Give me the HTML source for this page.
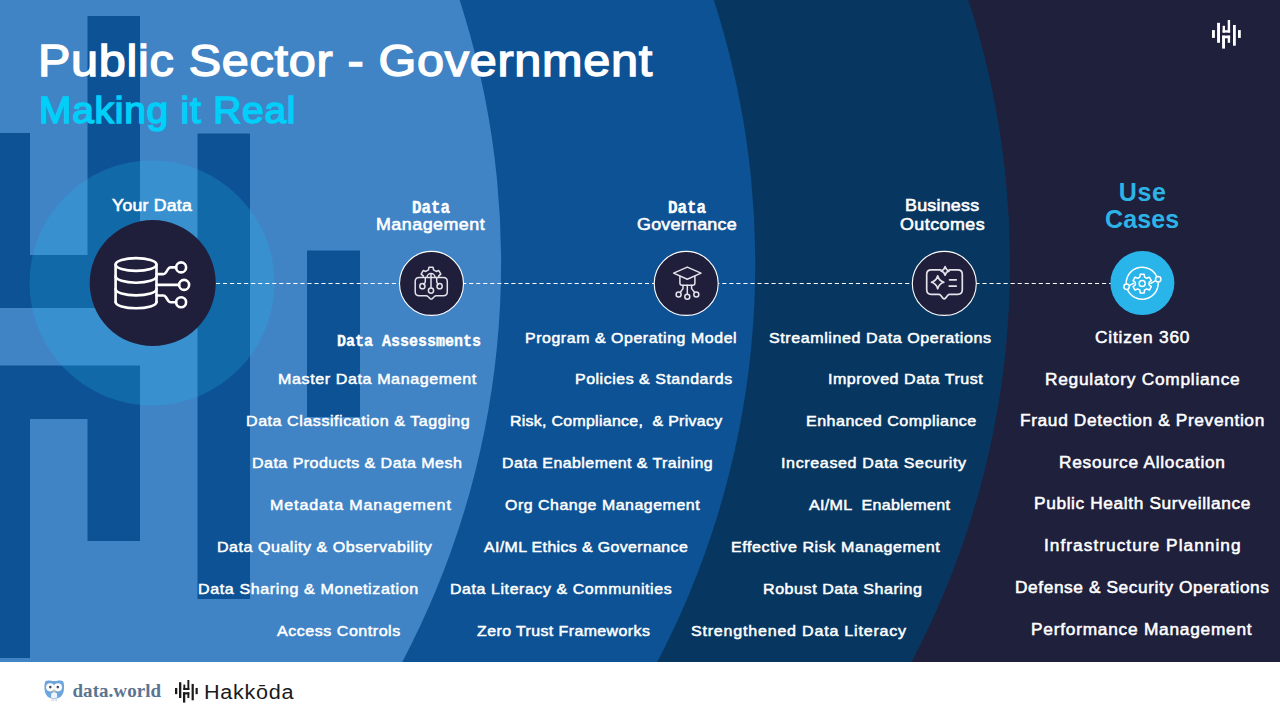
<!DOCTYPE html>
<html><head><meta charset="utf-8">
<style>
html,body{margin:0;padding:0;}
body{width:1280px;height:720px;overflow:hidden;position:relative;background:#fff;font-family:"Liberation Sans",sans-serif;}
.t{position:absolute;white-space:nowrap;line-height:1;transform-origin:0 0;}
svg.bg{position:absolute;left:0;top:0;}
</style></head><body>
<svg class="bg" width="1280" height="720" viewBox="0 0 1280 720">
<defs><clipPath id="main"><rect x="0" y="0" width="1280" height="662"/></clipPath></defs>
<g clip-path="url(#main)">
<rect x="0" y="0" width="1280" height="662" fill="#1f203c"/>
<circle cx="155.3" cy="263.7" r="854.7" fill="#073761"/>
<circle cx="-102.8" cy="263.6" r="858.1" fill="#0d5294"/>
<circle cx="-353.5" cy="263" r="854.6" fill="#4084c6"/>
<g fill="#0d5294"><path d="M-22,133 H30 V308 H-22Z M0,255 H140 V308 H0Z M87.5,16 H140 V308 H87.5Z M-22,365.5 H140 V419 H-22Z M-22,365.5 H30 V658 H-22Z M87.5,365.5 H140 V541 H87.5Z M197.5,133.5 H250 V599 H197.5Z M307,250.5 H360 V417 H307Z"/></g>
<circle cx="152" cy="283" r="122.5" fill="rgba(31,186,243,0.22)"/>
</g>
<line x1="216" y1="283.5" x2="1111" y2="283.5" stroke="#fff" stroke-width="1.2" stroke-dasharray="4.1 2.932"/>
<circle cx="152.7" cy="283.1" r="63" fill="#1f1f3b"/>
<circle cx="431.5" cy="283.4" r="32" fill="#1f1f3b" stroke="#fff" stroke-width="1.1"/>
<circle cx="686.2" cy="283.4" r="32" fill="#1f1f3b" stroke="#fff" stroke-width="1.1"/>
<circle cx="944.3" cy="283.4" r="32" fill="#1f1f3b" stroke="#fff" stroke-width="1.1"/>
<circle cx="1142.4" cy="283.1" r="32" fill="#2ab5ea"/>
<g fill="none" stroke="#fff" stroke-width="2.6" stroke-linecap="round" stroke-linejoin="round"><ellipse cx="136.05" cy="264.5" rx="20.45" ry="6.4"/><path d="M115.60000000000001,276.3 A20.45,6.4 0 0 0 156.5,276.3"/><path d="M115.60000000000001,289.0 A20.45,6.4 0 0 0 156.5,289.0"/><path d="M115.60000000000001,301.9 A20.45,6.4 0 0 0 156.5,301.9"/><path d="M115.60000000000001,264.6 V301.9 M156.5,264.6 V301.9"/><path d="M156.5,274.1 H163.2 Q164.8,274.1 165.8,272.6 L168.2,268.9 Q169.2,267.4 170.8,267.4 H176.1"/><path d="M156.5,284.9 H179.1"/><path d="M156.5,295.5 H163.2 Q164.8,295.5 165.8,297 L168.2,300.8 Q169.2,302.3 170.8,302.3 H176.1"/><circle cx="181.1" cy="267.4" r="5.0"/><circle cx="184.1" cy="284.9" r="5.0"/><circle cx="181.1" cy="302.3" r="5.0"/></g>
<g fill="none" stroke="#e2e2ea" stroke-width="1.5" stroke-linecap="round" stroke-linejoin="round"><clipPath id="gclip"><rect x="410" y="255" width="45" height="22.2"/></clipPath><path clip-path="url(#gclip)" d="M428.48,269.91 L428.94,267.21 L433.06,267.21 L433.52,269.91 L436.22,271.47 L438.80,270.52 L440.86,274.08 L438.74,275.84 L438.74,278.96 L440.86,280.72 L438.80,284.28 L436.22,283.33 L433.52,284.89 L433.06,287.59 L428.94,287.59 L428.48,284.89 L425.78,283.33 L423.20,284.28 L421.14,280.72 L423.26,278.96 L423.26,275.84 L421.14,274.08 L423.20,270.52 L425.78,271.47Z"/><path clip-path="url(#gclip)" d="M427,277.6 A4,4 0 0 1 435,277.6"/><path d="M419.2,277.6 H443.3 Q447.3,277.6 447.3,281.6 V291.8 Q447.3,295.8 443.3,295.8 H436.2 Q435.2,295.8 434.2,296.8 L432.3,298.6 Q431.2,299.5 430.1,298.6 L428.2,296.8 Q427.2,295.8 426.2,295.8 H419.2 Q415.2,295.8 415.2,291.8 V281.6 Q415.2,277.6 419.2,277.6Z"/><path d="M431,273.8 V287.6"/><path d="M425.3,277.6 V281.2 Q425.3,282.6 424.4,283.6 L423.6,284.4"/><path d="M436.7,277.6 V281.2 Q436.7,282.6 437.6,283.6 L438.4,284.4"/><circle cx="422.4" cy="286.2" r="2.6"/><circle cx="431" cy="290.6" r="2.6"/><circle cx="439.6" cy="286.2" r="2.6"/></g>
<g fill="none" stroke="#e2e2ea" stroke-width="1.5" stroke-linecap="round" stroke-linejoin="round"><path d="M673.6,273.1 L687.3,267.1 L701,273.1 L687.3,279.3 Z"/><path d="M679.9,276.2 V283 Q679.9,285.3 682.2,285.3 H692.6 Q694.9,285.3 694.9,283 V276.2"/><path d="M687.3,285.3 V294.2"/><path d="M683,285.3 V288.6 L680.4,292.2"/><path d="M691.6,285.3 V288.6 L694.5,292.2"/><circle cx="678.6" cy="294.4" r="2.5"/><circle cx="687.3" cy="296.7" r="2.5"/><circle cx="696.3" cy="294.4" r="2.5"/></g>
<g fill="none" stroke="#e2e2ea" stroke-width="1.7" stroke-linecap="round" stroke-linejoin="round"><path d="M940.6,269.8 H931.2 Q926.7,269.8 926.7,274.3 V289.8 Q926.7,294.3 931.2,294.3 H938.8 Q939.8,294.3 940.6,295.3 L942.9,298.1 Q944.2,299.4 945.5,298.1 L947.8,295.3 Q948.6,294.3 949.6,294.3 H957.8 Q962.3,294.3 962.3,289.8 V274.3 Q962.3,269.8 957.8,269.8 H949.6"/><path d="M945.1,266.59999999999997 Q946.0020000000001,269.95399999999995 949.2,270.9 Q946.0020000000001,271.846 945.1,275.2 Q944.198,271.846 941.0,270.9 Q944.198,269.95399999999995 945.1,266.59999999999997Z"/><path d="M937.7,275.8 Q939.0640000000001,280.87 943.9000000000001,282.3 Q939.0640000000001,283.73 937.7,288.8 Q936.336,283.73 931.5,282.3 Q936.336,280.87 937.7,275.8Z"/><path d="M949.6,279.8 H956.2 M949.2,286.1 H956.2" stroke-width="1.8"/></g>
<g fill="none" stroke="#fff" stroke-width="1.5" stroke-linecap="round" stroke-linejoin="round"><path d="M1126.20,283.20 A16,16 0 0 1 1157.03,277.21"/><path d="M1158.20,283.20 A16,16 0 0 1 1127.16,288.67"/><path d="M1139.90,276.99 L1140.20,274.21 L1144.20,274.21 L1144.50,276.99 L1146.77,278.30 L1149.33,277.18 L1151.33,280.63 L1149.08,282.29 L1149.08,284.91 L1151.33,286.57 L1149.33,290.02 L1146.77,288.90 L1144.50,290.21 L1144.20,292.99 L1140.20,292.99 L1139.90,290.21 L1137.63,288.90 L1135.07,290.02 L1133.07,286.57 L1135.32,284.91 L1135.32,282.29 L1133.07,280.63 L1135.07,277.18 L1137.63,278.30Z"/><circle cx="1142.2" cy="283.6" r="3"/><path d="M1129.2,285.6 L1133.4,283.4 M1150.9,283.4 L1155.6,280.6"/><circle cx="1126.6" cy="286.8" r="2.7" fill="#2ab5ea"/><circle cx="1158.2" cy="279.2" r="2.7" fill="#2ab5ea"/></g>
<g fill="#fff"><rect x="1212.00" y="30.10" width="2.90" height="7.80"/><rect x="1217.10" y="22.80" width="2.90" height="20.00"/><rect x="1233.00" y="25.00" width="2.80" height="20.70"/><rect x="1238.00" y="30.10" width="2.80" height="7.80"/><rect x="1222.60" y="25.80" width="2.40" height="6.80"/><rect x="1227.70" y="20.00" width="2.40" height="12.60"/><rect x="1222.60" y="30.20" width="7.50" height="2.40"/><rect x="1222.10" y="35.60" width="2.90" height="13.00"/><rect x="1227.70" y="35.60" width="2.40" height="7.20"/><rect x="1222.10" y="35.60" width="8.00" height="2.70"/></g>
<g fill="#1a1a1a"><rect x="175.00" y="687.98" width="2.29" height="6.16"/><rect x="179.03" y="682.21" width="2.29" height="15.80"/><rect x="191.59" y="683.95" width="2.21" height="16.35"/><rect x="195.54" y="687.98" width="2.21" height="6.16"/><rect x="183.37" y="684.58" width="1.90" height="5.37"/><rect x="187.40" y="680.00" width="1.90" height="9.95"/><rect x="183.37" y="688.06" width="5.93" height="1.90"/><rect x="182.98" y="692.32" width="2.29" height="10.27"/><rect x="187.40" y="692.32" width="1.90" height="5.69"/><rect x="182.98" y="692.32" width="6.32" height="2.13"/></g>
<path d="M45.2,681.5 Q47,680 50,680.6 Q54.2,681.6 58.5,680.6 Q61.5,680 63.3,681.5 Q64.3,684 64,689 Q63.6,695.5 59,697.8 Q54.2,699.5 49.5,697.8 Q44.9,695.5 44.5,689 Q44.2,684 45.2,681.5Z" fill="#6ea5dc"/><circle cx="50.2" cy="687.3" r="4.1" fill="#fff"/><circle cx="57.9" cy="687.3" r="4.1" fill="#fff"/><circle cx="50.3" cy="687.1" r="1.3" fill="#4a5060"/><circle cx="57.8" cy="687.1" r="1.3" fill="#4a5060"/><path d="M51.2,693.5 Q54.1,690.5 57,693.5 L57.2,697.6 Q54.1,699 51,697.6Z" fill="#eef4fb"/><rect x="53.1" y="690" width="2" height="2.5" rx="0.8" fill="#dcc39a"/><path d="M52.2,699.2 L51.8,701.2 M53.2,699.2 L53.2,701.2 M55.2,699.2 L55.2,701.2 M56.2,699.2 L56.6,701.2" stroke="#c9ccd4" stroke-width="0.8"/>
</svg>
<div id="t1" class="t" style="left:38.01px;top:38.16px;font-size:45px;letter-spacing:0.639px;transform:scaleX(1.08);-webkit-text-stroke:1.4px #fff;color:#fff;font-weight:400;font-family:'Liberation Sans', sans-serif">Public Sector - Government</div><div id="t2" class="t" style="left:38.84px;top:92.63px;font-size:36px;letter-spacing:0.718px;transform:scaleX(1.08);-webkit-text-stroke:1.5px #00cff9;color:#00cff9;font-weight:400;font-family:'Liberation Sans', sans-serif">Making it Real</div><div id="h1" class="t" style="left:112.10px;top:197.11px;font-size:17px;letter-spacing:0.216px;transform:scaleX(1.04);-webkit-text-stroke:0.6px #fff;color:#fff;font-weight:400;font-family:'Liberation Sans', sans-serif">Your Data</div><div id="h2a" class="t" style="left:411.62px;top:198.80px;font-size:18px;letter-spacing:0.000px;transform:scaleX(0.878571428571428);-webkit-text-stroke:0.4px #fff;color:#fff;font-weight:700;font-family:'Liberation Mono', monospace">Data</div><div id="h2b" class="t" style="left:375.55px;top:216.21px;font-size:17px;letter-spacing:0.471px;transform:scaleX(1.05);-webkit-text-stroke:0.6px #fff;color:#fff;font-weight:400;font-family:'Liberation Sans', sans-serif">Management</div><div id="h3a" class="t" style="left:668.12px;top:198.60px;font-size:18px;letter-spacing:0.000px;transform:scaleX(0.8833333333333339);-webkit-text-stroke:0.4px #fff;color:#fff;font-weight:700;font-family:'Liberation Mono', monospace">Data</div><div id="h3b" class="t" style="left:637.35px;top:216.31px;font-size:17px;letter-spacing:0.259px;transform:scaleX(1.05);-webkit-text-stroke:0.6px #fff;color:#fff;font-weight:400;font-family:'Liberation Sans', sans-serif">Governance</div><div id="h4a" class="t" style="left:904.55px;top:197.31px;font-size:17px;letter-spacing:0.231px;transform:scaleX(1.05);-webkit-text-stroke:0.6px #fff;color:#fff;font-weight:400;font-family:'Liberation Sans', sans-serif">Business</div><div id="h4b" class="t" style="left:899.55px;top:216.31px;font-size:17px;letter-spacing:0.449px;transform:scaleX(1.05);-webkit-text-stroke:0.6px #fff;color:#fff;font-weight:400;font-family:'Liberation Sans', sans-serif">Outcomes</div><div id="h5a" class="t" style="left:1118.70px;top:180.04px;font-size:25px;letter-spacing:0.650px;color:#2cb4e7;font-weight:700;font-family:'Liberation Sans', sans-serif">Use</div><div id="h5b" class="t" style="left:1105.00px;top:207.34px;font-size:25px;letter-spacing:0.125px;color:#2cb4e7;font-weight:700;font-family:'Liberation Sans', sans-serif">Cases</div><div id="c1_0" class="t" style="left:337.49px;top:334.05px;font-size:16.5px;letter-spacing:0.000px;transform:scaleX(0.9089171974522295);-webkit-text-stroke:0.4px #fff;color:#fff;font-weight:700;font-family:'Liberation Mono', monospace">Data Assessments</div><div id="c1_1" class="t" style="left:277.83px;top:371.30px;font-size:15px;letter-spacing:0.565px;transform:scaleX(1.07);-webkit-text-stroke:0.5px #fff;color:#fff;font-weight:400;font-family:'Liberation Sans', sans-serif">Master Data Management</div><div id="c1_2" class="t" style="left:246.03px;top:412.90px;font-size:15px;letter-spacing:0.510px;transform:scaleX(1.07);-webkit-text-stroke:0.5px #fff;color:#fff;font-weight:400;font-family:'Liberation Sans', sans-serif">Data Classification &amp; Tagging</div><div id="c1_3" class="t" style="left:252.23px;top:455.10px;font-size:15px;letter-spacing:0.425px;transform:scaleX(1.07);-webkit-text-stroke:0.5px #fff;color:#fff;font-weight:400;font-family:'Liberation Sans', sans-serif">Data Products &amp; Data Mesh</div><div id="c1_4" class="t" style="left:270.33px;top:497.30px;font-size:15px;letter-spacing:0.820px;transform:scaleX(1.07);-webkit-text-stroke:0.5px #fff;color:#fff;font-weight:400;font-family:'Liberation Sans', sans-serif">Metadata Management</div><div id="c1_5" class="t" style="left:216.83px;top:539.30px;font-size:15px;letter-spacing:0.485px;transform:scaleX(1.07);-webkit-text-stroke:0.5px #fff;color:#fff;font-weight:400;font-family:'Liberation Sans', sans-serif">Data Quality &amp; Observability</div><div id="c1_6" class="t" style="left:197.93px;top:581.10px;font-size:15px;letter-spacing:0.570px;transform:scaleX(1.07);-webkit-text-stroke:0.5px #fff;color:#fff;font-weight:400;font-family:'Liberation Sans', sans-serif">Data Sharing &amp; Monetization</div><div id="c1_7" class="t" style="left:277.30px;top:623.10px;font-size:15px;letter-spacing:0.483px;transform:scaleX(1.07);-webkit-text-stroke:0.5px #fff;color:#fff;font-weight:400;font-family:'Liberation Sans', sans-serif">Access Controls</div><div id="c2_0" class="t" style="left:524.64px;top:329.50px;font-size:15px;letter-spacing:0.535px;transform:scaleX(1.06);-webkit-text-stroke:0.5px #fff;color:#fff;font-weight:400;font-family:'Liberation Sans', sans-serif">Program &amp; Operating Model</div><div id="c2_1" class="t" style="left:575.04px;top:371.30px;font-size:15px;letter-spacing:0.515px;transform:scaleX(1.06);-webkit-text-stroke:0.5px #fff;color:#fff;font-weight:400;font-family:'Liberation Sans', sans-serif">Policies &amp; Standards</div><div id="c2_2" class="t" style="left:509.54px;top:412.90px;font-size:15px;letter-spacing:0.279px;transform:scaleX(1.06);-webkit-text-stroke:0.5px #fff;color:#fff;font-weight:400;font-family:'Liberation Sans', sans-serif">Risk, Compliance, &nbsp;&amp; Privacy</div><div id="c2_3" class="t" style="left:501.74px;top:455.10px;font-size:15px;letter-spacing:0.443px;transform:scaleX(1.06);-webkit-text-stroke:0.5px #fff;color:#fff;font-weight:400;font-family:'Liberation Sans', sans-serif">Data Enablement &amp; Training</div><div id="c2_4" class="t" style="left:504.54px;top:497.30px;font-size:15px;letter-spacing:0.506px;transform:scaleX(1.06);-webkit-text-stroke:0.5px #fff;color:#fff;font-weight:400;font-family:'Liberation Sans', sans-serif">Org Change Management</div><div id="c2_5" class="t" style="left:484.40px;top:539.30px;font-size:15px;letter-spacing:0.355px;transform:scaleX(1.06);-webkit-text-stroke:0.5px #fff;color:#fff;font-weight:400;font-family:'Liberation Sans', sans-serif">AI/ML Ethics &amp; Governance</div><div id="c2_6" class="t" style="left:449.54px;top:581.10px;font-size:15px;letter-spacing:0.570px;transform:scaleX(1.06);-webkit-text-stroke:0.5px #fff;color:#fff;font-weight:400;font-family:'Liberation Sans', sans-serif">Data Literacy &amp; Communities</div><div id="c2_7" class="t" style="left:477.30px;top:623.10px;font-size:15px;letter-spacing:0.401px;transform:scaleX(1.06);-webkit-text-stroke:0.5px #fff;color:#fff;font-weight:400;font-family:'Liberation Sans', sans-serif">Zero Trust Frameworks</div><div id="c3_0" class="t" style="left:768.93px;top:329.50px;font-size:15px;letter-spacing:0.538px;transform:scaleX(1.07);-webkit-text-stroke:0.5px #fff;color:#fff;font-weight:400;font-family:'Liberation Sans', sans-serif">Streamlined Data Operations</div><div id="c3_1" class="t" style="left:827.83px;top:371.30px;font-size:15px;letter-spacing:0.485px;transform:scaleX(1.07);-webkit-text-stroke:0.5px #fff;color:#fff;font-weight:400;font-family:'Liberation Sans', sans-serif">Improved Data Trust</div><div id="c3_2" class="t" style="left:805.63px;top:412.90px;font-size:15px;letter-spacing:0.457px;transform:scaleX(1.07);-webkit-text-stroke:0.5px #fff;color:#fff;font-weight:400;font-family:'Liberation Sans', sans-serif">Enhanced Compliance</div><div id="c3_3" class="t" style="left:780.53px;top:455.10px;font-size:15px;letter-spacing:0.589px;transform:scaleX(1.07);-webkit-text-stroke:0.5px #fff;color:#fff;font-weight:400;font-family:'Liberation Sans', sans-serif">Increased Data Security</div><div id="c3_4" class="t" style="left:808.70px;top:497.30px;font-size:15px;letter-spacing:0.293px;transform:scaleX(1.07);-webkit-text-stroke:0.5px #fff;color:#fff;font-weight:400;font-family:'Liberation Sans', sans-serif">AI/ML &nbsp;Enablement</div><div id="c3_5" class="t" style="left:731.33px;top:539.30px;font-size:15px;letter-spacing:0.536px;transform:scaleX(1.07);-webkit-text-stroke:0.5px #fff;color:#fff;font-weight:400;font-family:'Liberation Sans', sans-serif">Effective Risk Management</div><div id="c3_6" class="t" style="left:763.43px;top:581.10px;font-size:15px;letter-spacing:0.511px;transform:scaleX(1.07);-webkit-text-stroke:0.5px #fff;color:#fff;font-weight:400;font-family:'Liberation Sans', sans-serif">Robust Data Sharing</div><div id="c3_7" class="t" style="left:690.73px;top:623.10px;font-size:15px;letter-spacing:0.735px;transform:scaleX(1.07);-webkit-text-stroke:0.5px #fff;color:#fff;font-weight:400;font-family:'Liberation Sans', sans-serif">Strengthened Data Literacy</div><div id="c4_0" class="t" style="left:1094.52px;top:329.76px;font-size:16px;letter-spacing:0.739px;transform:scaleX(1.08);-webkit-text-stroke:0.5px #fff;color:#fff;font-weight:400;font-family:'Liberation Sans', sans-serif">Citizen 360</div><div id="c4_1" class="t" style="left:1044.52px;top:371.56px;font-size:16px;letter-spacing:0.699px;transform:scaleX(1.08);-webkit-text-stroke:0.5px #fff;color:#fff;font-weight:400;font-family:'Liberation Sans', sans-serif">Regulatory Compliance</div><div id="c4_2" class="t" style="left:1020.02px;top:413.16px;font-size:16px;letter-spacing:0.602px;transform:scaleX(1.08);-webkit-text-stroke:0.5px #fff;color:#fff;font-weight:400;font-family:'Liberation Sans', sans-serif">Fraud Detection &amp; Prevention</div><div id="c4_3" class="t" style="left:1058.92px;top:454.66px;font-size:16px;letter-spacing:0.679px;transform:scaleX(1.08);-webkit-text-stroke:0.5px #fff;color:#fff;font-weight:400;font-family:'Liberation Sans', sans-serif">Resource Allocation</div><div id="c4_4" class="t" style="left:1033.72px;top:496.46px;font-size:16px;letter-spacing:0.581px;transform:scaleX(1.08);-webkit-text-stroke:0.5px #fff;color:#fff;font-weight:400;font-family:'Liberation Sans', sans-serif">Public Health Surveillance</div><div id="c4_5" class="t" style="left:1043.92px;top:538.46px;font-size:16px;letter-spacing:0.955px;transform:scaleX(1.08);-webkit-text-stroke:0.5px #fff;color:#fff;font-weight:400;font-family:'Liberation Sans', sans-serif">Infrastructure Planning</div><div id="c4_6" class="t" style="left:1014.82px;top:579.76px;font-size:16px;letter-spacing:0.552px;transform:scaleX(1.08);-webkit-text-stroke:0.5px #fff;color:#fff;font-weight:400;font-family:'Liberation Sans', sans-serif">Defense &amp; Security Operations</div><div id="c4_7" class="t" style="left:1031.32px;top:622.26px;font-size:16px;letter-spacing:0.709px;transform:scaleX(1.08);-webkit-text-stroke:0.5px #fff;color:#fff;font-weight:400;font-family:'Liberation Sans', sans-serif">Performance Management</div><div id="dw" class="t" style="left:72.50px;top:680.82px;font-size:19px;letter-spacing:0.044px;color:#5a7491;font-weight:700;font-family:'Liberation Serif', serif">data.world</div><div id="hk" class="t" style="left:204.44px;top:681.67px;font-size:20px;letter-spacing:0.639px;transform:scaleX(1.08);color:#1a1a1a;font-weight:400;font-family:'Liberation Sans', sans-serif">Hakkōda</div>
</body></html>
